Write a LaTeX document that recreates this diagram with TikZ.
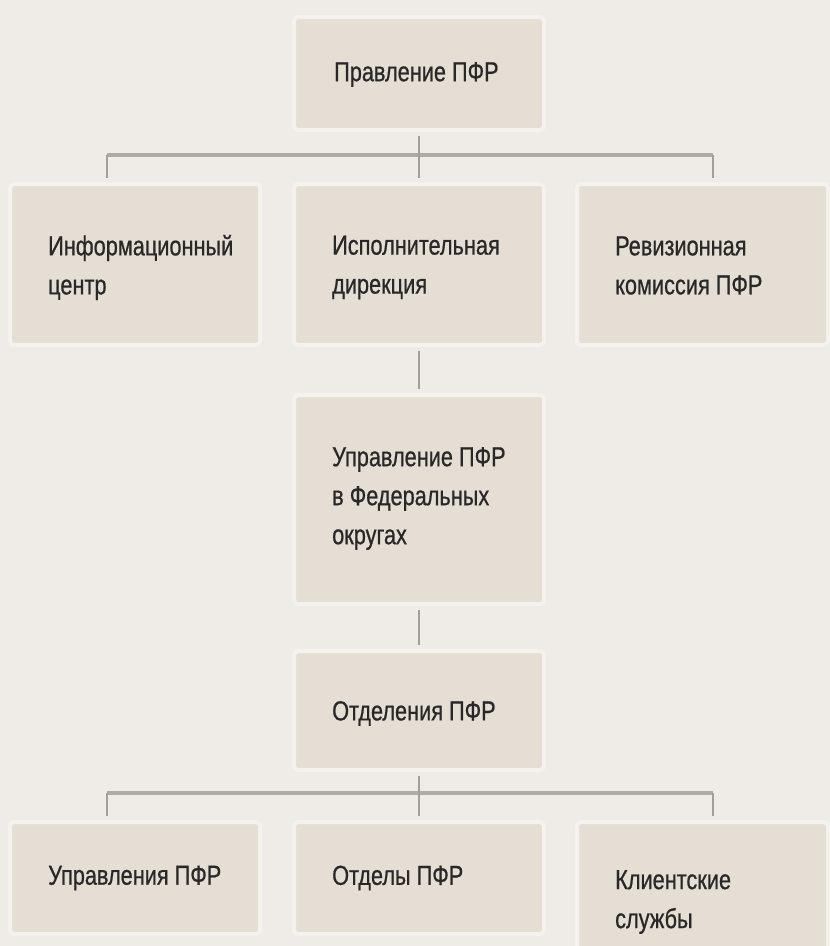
\documentclass[tikz,border=0pt]{standalone}
\usepackage{fontspec}
\setmainfont{Liberation Sans}[FakeStretch=0.79,FakeBold=0.7]
\definecolor{bgc}{HTML}{EFEBE7}
\definecolor{boxc}{HTML}{E4DED5}
\definecolor{haloc}{HTML}{F5F2EE}
\definecolor{linec}{HTML}{A29E9A}
\definecolor{hlinec}{HTML}{AEAAA5}
\definecolor{txtc}{HTML}{2A2826}
\tikzset{
  orgbox/.style={rectangle, fill=boxc, draw=haloc, line width=4pt, rounded corners=4pt, anchor=north west, inner sep=0pt},
  lbl/.style={anchor=west, align=left, inner sep=0pt, text=txtc, font=\fontsize{27.5}{39}\selectfont},
  vconn/.style={draw=linec, line width=2pt, shorten <=4pt, shorten >=4pt},
  hconn/.style={draw=hlinec, line width=3.5pt}
}
\begin{document}
\begin{tikzpicture}[x=1pt,y=-1pt]
\useasboundingbox (0,0) rectangle (830,946);
\clip (0,0) rectangle (830,946);
\fill[bgc] (0,0) rectangle (830,946);
% boxes
\node[orgbox, minimum width=250pt, minimum height=113pt] (top) at (292,15) {};
\node[orgbox, minimum width=250pt, minimum height=161pt] (info) at (8,182) {};
\node[orgbox, minimum width=250pt, minimum height=161pt] (exec) at (292,182) {};
\node[orgbox, minimum width=251pt, minimum height=161pt] (audit) at (575,182) {};
\node[orgbox, minimum width=250pt, minimum height=209pt] (fed) at (292,393) {};
\node[orgbox, minimum width=250pt, minimum height=119pt] (otd) at (292,649) {};
\node[orgbox, minimum width=250pt, minimum height=112pt] (upr) at (8,820) {};
\node[orgbox, minimum width=250pt, minimum height=112pt] (otdel) at (292,820) {};
\node[orgbox, minimum width=251pt, minimum height=140pt] (kl) at (575,820) {};
% labels
\node[lbl] (ttop) at ([xshift=42pt,yshift=-1pt]top.west) {Правление ПФР};
\node[lbl] (tinfo) at ([xshift=40pt,yshift=-3pt]info.west) {Информационный\\центр};
\node[lbl] (texec) at ([xshift=40pt,yshift=-3pt]exec.west) {Исполнительная\\дирекция};
\node[lbl] (taudit) at ([xshift=40pt,yshift=-1pt]audit.west) {Ревизионная\\комиссия ПФР};
\node[lbl] (tfed) at ([xshift=40pt,yshift=1pt]fed.west) {Управление ПФР\\в Федеральных\\округах};
\node[lbl] (totd) at ([xshift=40pt,yshift=-3pt]otd.west) {Отделения ПФР};
\node[lbl] (tupr) at ([xshift=40pt]upr.west) {Управления ПФР};
\node[lbl] (totdel) at ([xshift=40pt]otdel.west) {Отделы ПФР};
\node[lbl] (tkl) at ([xshift=40pt,yshift=-10pt]kl.west) {Клиентские\\службы};
% connector coordinates
\coordinate (h1l) at (107,155);
\coordinate (h1r) at (713,155);
\coordinate (h2l) at (107,793);
\coordinate (h2r) at (713,793);
% connectors
\draw[hconn] (h1l) -- (h1r);
\draw[hconn] (h2l) -- (h2r);
\draw[vconn] (top.south) -- (exec.north);
\draw[vconn, shorten <=0pt] (h1l) -- (h1l |- info.north);
\draw[vconn, shorten <=0pt] (h1r) -- (h1r |- audit.north);
\draw[vconn] (exec.south) -- (fed.north);
\draw[vconn] (fed.south) -- (otd.north);
\draw[vconn] (otd.south) -- (otdel.north);
\draw[vconn, shorten <=0pt] (h2l) -- (h2l |- upr.north);
\draw[vconn, shorten <=0pt] (h2r) -- (h2r |- kl.north);
\end{tikzpicture}
\end{document}
